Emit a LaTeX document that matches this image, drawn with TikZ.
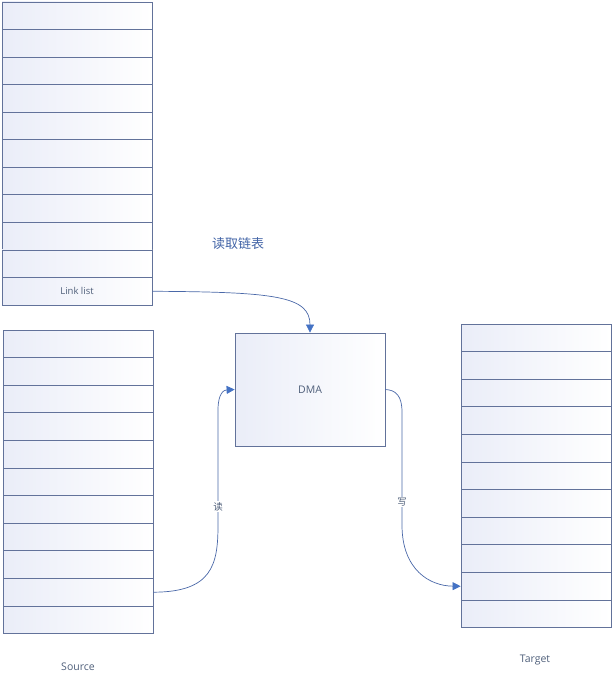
\documentclass[tikz,border=0pt]{standalone}
\usepackage{fontspec}
\setmainfont{Open Sans}
\newfontfamily\cjk{Noto Sans CJK SC}
\usepackage{tikz}
\usetikzlibrary{positioning}
\usetikzlibrary{arrows.meta}
\usepackage{xcolor}

\definecolor{boxline}{HTML}{62729A}
\definecolor{boxfill}{HTML}{EAEDF8}
\definecolor{wire}{HTML}{4A68A8}
\definecolor{tipblue}{HTML}{4472C4}
\definecolor{labeltext}{HTML}{4F5F7A}
\definecolor{titletext}{HTML}{4163A6}

\begin{document}
\begin{tikzpicture}[x=1pt,y=-1pt,
        cell/.style={draw=boxline,line width=0.8pt,rectangle,inner sep=0pt,
            minimum width=150pt,minimum height=27.6pt,
            left color=boxfill,right color=white,
            font=\fontsize{9.5}{11}\selectfont,text=labeltext},
        engine/.style={cell,minimum width=150pt,minimum height=113pt,
            font=\fontsize{10.5}{12}\selectfont},
        wirelink/.style={draw=wire,line width=0.7pt,
            -{Triangle[length=8pt,width=8pt,fill=tipblue,color=tipblue]}},
        wiretag/.style={fill=white,inner sep=1pt,text=labeltext,
            font=\cjk\fontsize{9.5}{10}\selectfont},
        caption/.style={text=labeltext,font=\fontsize{10.5}{12}\selectfont}]
        \useasboundingbox (0,0) rectangle (613,685);

        % three columns of memory cells
        \foreach \i in {1,...,11} {
            \node (lk\i) [cell] at (77,{2+27.55*(\i-0.5)}) {};
            \node (src\i) [cell] at (78,{330+27.6*(\i-0.5)}) {};
            \node (tgt\i) [cell] at (536,{324+27.6*(\i-0.5)}) {};
        }
        \node at (lk11) [text=labeltext,font=\fontsize{9.5}{11}\selectfont] {Link list};

        \node (dma) [engine] at (310,389.5) {DMA};

        \node (chain) [text=titletext,font=\cjk\fontsize{13}{15}\selectfont] at (238,244) {读取链表};
        \node (srclabel) [caption] at (78,667) {Source};
        \node (tgtlabel) [caption] at (535,660) {Target};

        % connectors
        \draw [wirelink] (lk11.east) .. controls (275,292) and (310,296) .. (dma.north);
        \draw [wirelink] (src10.east) .. controls (212,592) and (218,565) .. (218,525)
            -- node [wiretag,pos=0.16] {读} (218,410)
            .. controls (218,393) and (224,390) .. (dma.west);
        \draw [wirelink] (dma.east) .. controls (396,390) and (402,396) .. (402,412)
            -- node [wiretag,pos=0.8] {写} (402,525)
            .. controls (402,570) and (430,586) .. (tgt10.west);
    \end{tikzpicture}
\end{document}
